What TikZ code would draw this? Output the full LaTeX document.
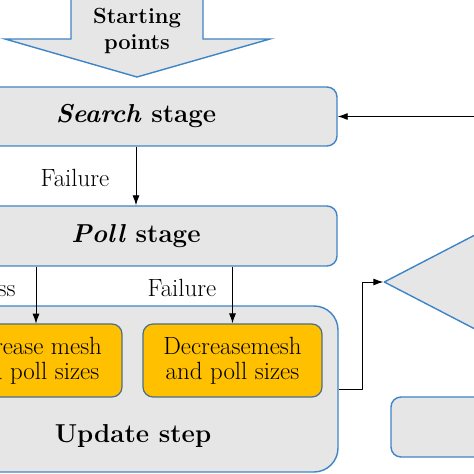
\documentclass[tikz,border=0pt]{standalone}
\usetikzlibrary{shapes.geometric,arrows.meta}
\definecolor{boxgray}{HTML}{E7E6E6}
\definecolor{boxblue}{HTML}{3D85C6}
\definecolor{mshorange}{HTML}{FFC000}
\definecolor{mshedge}{HTML}{4A6F8A}
\tikzset{
  stagebox/.style={draw=boxblue,fill=boxgray,line width=1.4bp,rounded corners=10bp,inner sep=0pt},
  sizebox/.style={draw=mshedge,fill=mshorange,line width=1.2bp,rounded corners=10bp,inner sep=0pt,
    align=center,font=\fontsize{25}{25}\selectfont},
  bigtext/.style={font=\fontsize{26}{26}\selectfont\bfseries},
  edgelabel/.style={font=\fontsize{25}{25}\selectfont},
}
\begin{document}
\begin{tikzpicture}[>={Latex[length=10bp,width=7bp]},line join=bevel,]
\useasboundingbox (0bp,0bp) rectangle (474bp,474bp);
\clip (0bp,0bp) rectangle (474bp,474bp);
%%
\draw [boxblue,fill=boxgray,line width=1.4bp,line join=miter] (71bp,490bp) -- (71bp,435bp) -- (5bp,435bp) -- (137bp,397bp)
  -- (270bp,435bp) -- (203bp,435bp) -- (203bp,490bp) -- cycle;
\node (node_start) at (137bp,443bp) [font=\fontsize{22}{26}\selectfont\bfseries,align=center] {Starting\\points};
  \node (node_search) at (136bp,357.5bp) [stagebox,minimum width=402bp,minimum height=59bp] {};
  \node (node_searchtext) at (136bp,357.5bp) [bigtext] {\textit{Search} stage};
  \node (node_poll) at (136bp,238bp) [stagebox,minimum width=402bp,minimum height=60bp] {};
  \node (node_polltext) at (136bp,238bp) [bigtext] {\textit{Poll} stage};
  \node (node_update) at (136.5bp,85bp) [stagebox,rounded corners=24bp,minimum width=403bp,minimum height=166bp] {};
  \node (node_updatetext) at (133bp,38bp) [bigtext] {Update step};
  \node (node_inc) at (32.5bp,113.5bp) [sizebox,minimum width=179bp,minimum height=73bp] {Increase mesh\\and poll sizes};
  \node (node_dec) at (232.5bp,113.5bp) [sizebox,minimum width=179bp,minimum height=73bp] {Decreasemesh\\and poll sizes};
  \node (node_stop) at (484bp,192bp) [diamond,draw=boxblue,fill=boxgray,line width=1.4bp,inner sep=0pt,minimum width=200bp,minimum height=104bp] {};
  \node (node_end) at (491bp,47bp) [stagebox,minimum width=200bp,minimum height=60bp] {};
  \node (node_fail1) at (75bp,296bp) [edgelabel] {Failure};
  \node (node_success) at (19bp,186bp) [edgelabel,anchor=east] {Success};
  \node (node_fail2) at (182bp,186bp) [edgelabel] {Failure};
  \coordinate (coord_loop) at (480bp,357.5bp);
  \draw [black,->,line width=0.9bp] (node_search.south) -- (node_poll.north);
  \draw [black,->,line width=0.9bp] (node_poll.south -| node_inc.north) ++(3.5bp,0) -- ++(0,-57bp);
  \draw [black,->,line width=0.9bp] (node_poll.south -| node_dec.north) -- (node_dec.north);
  \draw [black,->,line width=0.9bp] (node_update.east) -- ++(24bp,0) |- (node_stop.west);
  \draw [black,->,line width=0.9bp] (coord_loop) -- (node_search.east);
%
\end{tikzpicture}
\end{document}
